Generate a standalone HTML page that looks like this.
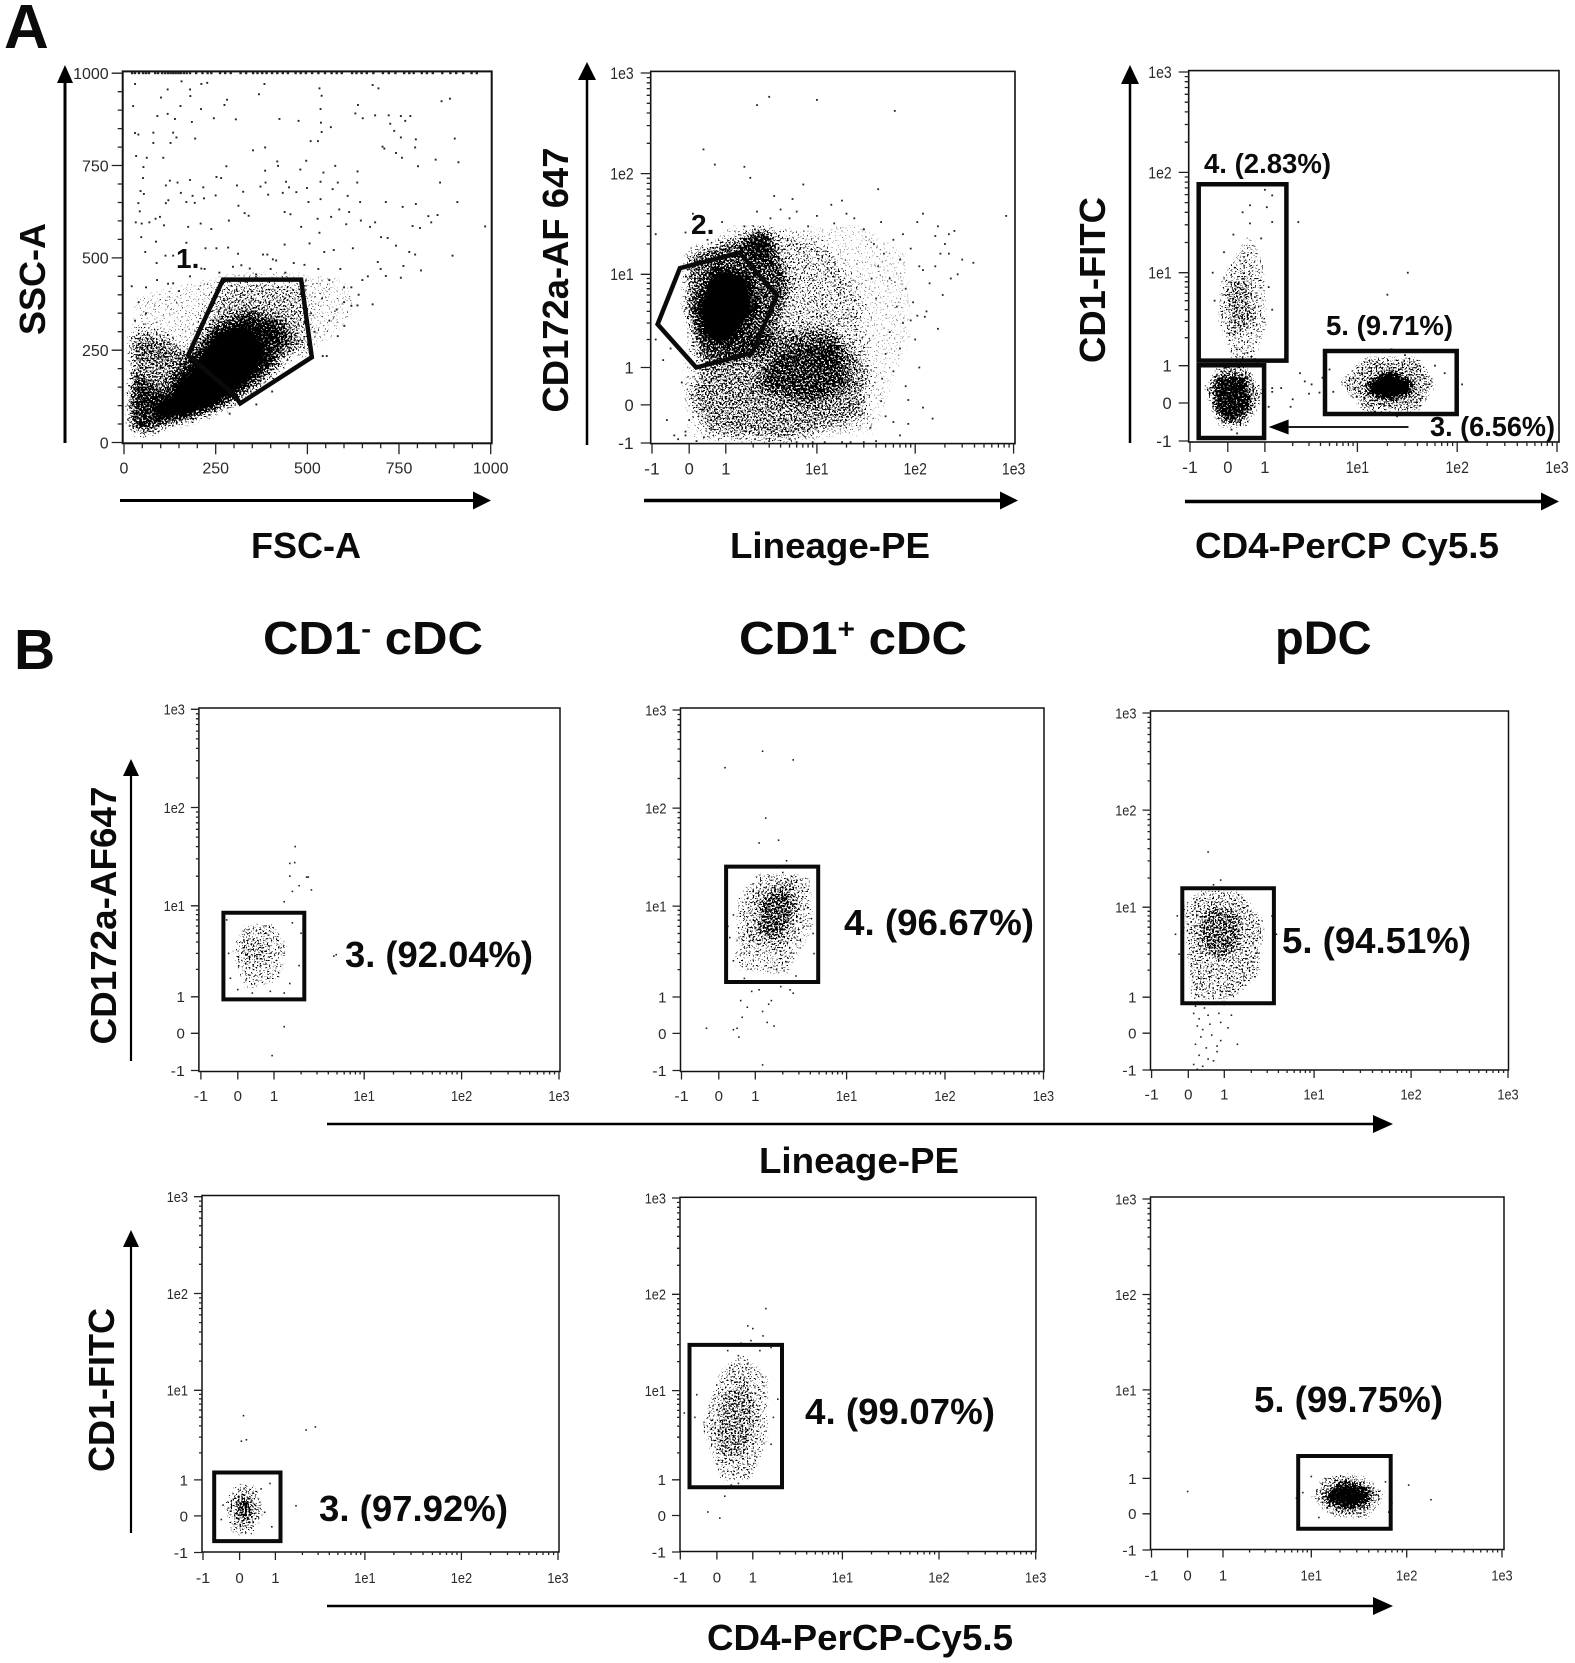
<!DOCTYPE html>
<html lang="en">
<head>
<meta charset="utf-8">
<title>Flow cytometry gating panels</title>
<style>
html,body{margin:0;padding:0;background:#fff;}
svg{display:block;}
text{font-family:"Liberation Sans",sans-serif;fill:#0b0b0b;}
.big{font-weight:bold;font-size:36px;}
.gate{font-weight:bold;font-size:28px;}
.pct{font-weight:bold;font-size:36px;}
</style>
</head>
<body>
<svg id="figure" xmlns="http://www.w3.org/2000/svg" width="1575" height="1663" viewBox="0 0 1575 1663">
<defs>
<filter id="stippleA" filterUnits="userSpaceOnUse" x="0" y="0" width="1575" height="1663" color-interpolation-filters="sRGB">
<feGaussianBlur in="SourceAlpha" stdDeviation="5" result="dens"/>
<feTurbulence type="fractalNoise" baseFrequency="0.55" numOctaves="2" seed="7" result="noise"/>
<feColorMatrix in="noise" type="matrix" values="0 0 0 0 0 0 0 0 0 0 0 0 0 0 0 2.6 0 0 0 -0.8" result="grain"/>
<feComposite in="dens" in2="grain" operator="arithmetic" k1="0" k2="1.35" k3="1" k4="-1.1" result="sum"/>
<feComponentTransfer in="sum"><feFuncA type="linear" slope="12" intercept="0"/></feComponentTransfer>
</filter>
<filter id="stippleB" filterUnits="userSpaceOnUse" x="0" y="0" width="1575" height="1663" color-interpolation-filters="sRGB">
<feGaussianBlur in="SourceAlpha" stdDeviation="3" result="dens"/>
<feTurbulence type="fractalNoise" baseFrequency="0.55" numOctaves="2" seed="11" result="noise"/>
<feColorMatrix in="noise" type="matrix" values="0 0 0 0 0 0 0 0 0 0 0 0 0 0 0 2.6 0 0 0 -0.8" result="grain"/>
<feComposite in="dens" in2="grain" operator="arithmetic" k1="0" k2="1.35" k3="1" k4="-1.1" result="sum"/>
<feComponentTransfer in="sum"><feFuncA type="linear" slope="12" intercept="0"/></feComponentTransfer>
</filter>
</defs>

<text x="4" y="48" font-size="62" font-weight="bold">A</text>
<text x="14" y="669" font-size="57" font-weight="bold">B</text>

<text class="big" x="306" y="558" text-anchor="middle">FSC-A</text>
<text class="big" transform="translate(45,279) rotate(-90)" text-anchor="middle">SSC-A</text>
<text class="big" x="830" y="558" text-anchor="middle" textLength="200" lengthAdjust="spacingAndGlyphs">Lineage-PE</text>
<text class="big" transform="translate(568,280) rotate(-90)" text-anchor="middle" textLength="265" lengthAdjust="spacingAndGlyphs">CD172a-AF 647</text>
<text class="big" x="1347" y="558" text-anchor="middle" textLength="304" lengthAdjust="spacingAndGlyphs">CD4-PerCP Cy5.5</text>
<text class="big" transform="translate(1105,280) rotate(-90)" text-anchor="middle" textLength="166" lengthAdjust="spacingAndGlyphs">CD1-FITC</text>

<text class="gate" x="176" y="268">1.</text>
<text class="gate" x="691" y="234">2.</text>
<text class="gate" x="1204" y="173" textLength="127" lengthAdjust="spacingAndGlyphs">4. (2.83%)</text>
<text class="gate" x="1326" y="335" textLength="127" lengthAdjust="spacingAndGlyphs">5. (9.71%)</text>
<text class="gate" x="1430" y="436" textLength="125" lengthAdjust="spacingAndGlyphs">3. (6.56%)</text>

<text transform="translate(263,654) scale(1.067,1)" font-size="46" font-weight="bold">CD1<tspan dy="-16" font-size="28">-</tspan><tspan dy="16"> cDC</tspan></text>
<text transform="translate(739,654) scale(1.07,1)" font-size="46" font-weight="bold">CD1<tspan dy="-16" font-size="28">+</tspan><tspan dy="16"> cDC</tspan></text>
<text x="1275" y="654" font-size="47" font-weight="bold">pDC</text>

<text class="pct" x="345" y="967" textLength="188" lengthAdjust="spacingAndGlyphs">3. (92.04%)</text>
<text class="pct" x="844" y="935" textLength="190" lengthAdjust="spacingAndGlyphs">4. (96.67%)</text>
<text class="pct" x="1282" y="953" textLength="189" lengthAdjust="spacingAndGlyphs">5. (94.51%)</text>
<text class="pct" x="319" y="1521" textLength="189" lengthAdjust="spacingAndGlyphs">3. (97.92%)</text>
<text class="pct" x="805" y="1424" textLength="190" lengthAdjust="spacingAndGlyphs">4. (99.07%)</text>
<text class="pct" x="1254" y="1412" textLength="189" lengthAdjust="spacingAndGlyphs">5. (99.75%)</text>

<text class="big" x="859" y="1173" text-anchor="middle" textLength="200" lengthAdjust="spacingAndGlyphs">Lineage-PE</text>
<text class="big" x="860" y="1650" text-anchor="middle" textLength="306" lengthAdjust="spacingAndGlyphs">CD4-PerCP-Cy5.5</text>
<text class="big" transform="translate(116,915.5) rotate(-90)" text-anchor="middle" textLength="258" lengthAdjust="spacingAndGlyphs">CD172a-AF647</text>
<text class="big" transform="translate(114,1390) rotate(-90)" text-anchor="middle">CD1-FITC</text>

<g id="plots"></g>
</svg>

<script>
// ---- axis ticks ----
const logTickValues=[-1,0,1,10,100,1000];
const logTickLabels=['-1','0','1','1e1','1e2','1e3'];
const logMinorValues=[2,3,4,5,6,7,8,9,20,30,40,50,60,70,80,90,200,300,400,500,600,700,800,900];
const linTickValues=[0,250,500,750,1000];
const linTickLabels=['0','250','500','750','1000'];
const linMinorValues=[50,100,150,200,300,350,400,450,550,600,650,700,800,850,900,950];

// ---- panel A1: FSC-A / SSC-A (flat x,y pairs) ----
const a1Saturated=[22,30,41,52,60,68,85,93,104,112,120,127,134,141,148,155,163,171,180,197,214,228,238,262,276,291,318,333,352,364,377,389,404,418,433,447,468,482,496,513,530,548,566,580,594,622,634,648,662,680,706,722,740,764,778,790,812,826,842,868,890,906,925,948,962];
const a1Events=[30,971,157,978,211,971,227,974,119,956,180,956,181,938,383,971,368,943,533,959,539,939,678,968,694,959,866,924,889,931,281,928,274,914,25,911,101,934,154,911,210,903,536,903,638,914,631,891,651,878,91,884,119,890,139,876,245,878,305,875,424,876,476,871,537,866,685,886,722,886,755,884,781,884,767,871,185,868,726,863,30,838,39,834,80,839,134,839,143,826,80,811,127,811,194,823,352,791,385,799,509,816,529,816,539,841,564,854,705,801,710,796,737,844,755,826,796,821,902,823,33,776,62,771,107,771,418,761,497,763,742,784,758,771,794,799,850,766,912,759,53,746,52,716,279,748,385,736,420,749,481,739,544,731,576,749,637,734,802,748,252,719,265,716,180,711,125,709,146,704,114,696,216,691,308,696,386,704,442,706,450,691,536,706,583,704,636,704,862,704,45,681,54,673,155,676,250,669,325,679,372,693,393,671,433,676,470,678,499,689,569,686,610,668,187,668,39,648,43,626,121,656,114,648,170,651,193,649,218,661,312,641,438,624,503,651,536,659,587,631,614,624,644,651,714,651,760,638,796,646,909,651,32,596,48,593,69,596,86,606,98,611,109,588,175,584,209,593,238,578,286,601,329,621,340,614,454,618,483,584,528,606,565,611,606,591,646,601,671,584,685,596,787,586,807,581,830,613,838,596,855,616,985,585,47,556,87,544,58,516,113,506,134,506,170,541,222,526,252,526,284,528,311,511,379,509,391,509,406,496,438,536,463,486,506,539,533,568,546,516,572,521,624,526,701,556,719,554,742,533,778,516,794,509,896,506,762,478,810,466,755,446,714,451,692,489,89,486,211,471,297,476,343,471,415,493,492,481,134,431,21,423,288,78,361,103,404,138,542,234,553,234,678,374,637,371,601,316,583,288,650,440,620,420,590,470,560,440,530,470,600,380,665,450,640,400,700,470,520,300,560,330,600,420,540,390,510,350,580,360,620,370,470,440,440,460,400,470,360,455,320,480,260,460,220,470,180,450,150,410,120,430,90,440,60,420,40,380,60,350,30,330];
const a1RegionAlpha=[0.12,0.24,0.42,0.5,0.6,0.95];
const a1RegionPts=[
[500,230,590,290,650,380,600,450,450,470,300,470,100,420,20,400,18,220],
[300,340,430,260,500,240,490,430,280,430,200,330],
[60,30,180,55,300,100,420,190,470,260,430,340,330,360,240,330,180,240,100,290,20,300,18,50],
[18,25,70,25,110,60,130,110,80,150,30,190,15,120],
[170,90,300,120,400,200,430,300,340,340,240,300,120,160],
[100,60,180,70,260,105,350,180,375,260,320,310,260,300,200,200,130,135,80,100]
];
const a1Gate=[270,441,483,441,512,231,317,106,300,130,175,236];

// ---- panel A2: Lineage-PE / CD172a ----
const a2Events=[3,580,2.2,480,10,540,62,420,0.39,174,0.7,123,1.6,117,1.86,91,7.1,78,42,70,5.4,56,18,54,14,49,840,38,105,33,170,30,220,25,250,27,390,13,270,10,220,16,180,16,120,11,190,6,125,3.5,105,3.6,170,2.6,150,-0.36,120,-0.07,85,0.13,60,-0.45,50,1.4,46,0.7,60,22,70,14,55,9,80,7,95,5,140,8,110,12,90,18,75,25,45,33,38,20,30,28,48,16,65,4.5,75,3,55,2.4,40,5.5,36,9,42,12,100,2,70,1.6,60,0.9,80,0.5,45,0.1,50,-0.3,35,-0.6,70,-0.8,30,28,24,36,20,40,15,32,10,38,8,30,6,42,4,44,5,36,3.4,60,-0.9,25,-0.4,-0.8,-0.2,0.6,-0.6,-0.4,-0.1,-0.8,0,-0.4,0.6,-0.6,1.2,-0.5,-0.3,-0.9,-0.1,-0.7,0.2,-0.95,0.4,-0.85,1.3,-0.8,2.1,-0.9,3,-0.95,5,-0.9,0.1,40,0.9,33,1.6,30,2.2,42,3.1,36,0.5,22,-0.1,26,-0.5,1.6,-0.7,1.2,-0.9,2,120,40,160,24,200,20,300,14,230,9,160,12,130,4,90,3.2,110,1,85,-0.5,40,-0.95,18,-0.98,12,-0.98,9,-0.98,22,-0.98,30,-0.98,6,-0.98];
const a2RegionAlpha=[0.11,0.18,0.34,0.4,0.5,0.55,0.85];
const a2RegionPts=[
[3,30,25,35,90,17,100,2.3,40,-0.9,5,-1,-0.1,-1,-0.3,1,0.9,35],
[3,27,12,20,30,5,30,1,4,1.5],
[1.8,2.3,13,2.7,35,0.9,29,-0.36,4.9,-0.93,0.53,-0.74,-0.04,0.32,0.34,1],
[3.5,1.44,15.6,1.9,21.6,0.5,8.2,0.03,2.1,0.5],
[-0.04,17,3,27,4.9,8.2,3,1.44,0.34,1.1,-0.13,4.3],
[1.5,22,2.6,30,3.4,14,2,12],
[0.7,11.8,1.8,9.8,2.1,3.9,1.08,1.73,0.43,1.9,0.19,4.3]
];
const a2Gate=[-0.25,11.5,1.42,16.4,3.64,5.94,1.95,1.44,0.19,1,-0.85,2.91];

// ---- panel A3: CD4-PerCP / CD1-FITC ----
const a3Events=[32,10,20,5.8,2.3,32,1.2,0.4,1.5,0.4,2,0.1,2.7,0.58,3.2,0.5,3.9,0.28,4.2,0.68,1.9,-0.1,112,0.5,0.67,75,1,67,1.2,59,0.6,47,1.05,45,1.2,32,0.6,31,0.15,24,0.4,40,0.9,22,-0.1,16,1.1,7,1.2,4,-0.4,10,-0.35,5,0.8,1.1,0.4,1.2,0.6,1,0.25,-0.8,0.1,-0.7,-0.1,-0.5,1.1,-0.1,1.2,0.3,22,1.5,30,1.3,15,-0.25,25,-0.35,60,1,75,0.8,5,0.9,5.5,0.3,2.4,0.8,3,0.25];
const a3RegionAlpha=[0.22,0.25,0.4,0.7,0.36,0.85];
const a3RegionPts=[
[-0.2,8,0.6,25,0.95,12,1.05,3,0.7,1.05,0.15,1.05,-0.25,3],
[-0.05,7,0.55,10,0.7,3,0.1,2],
[-0.6,0.4,-0.2,1,0.5,1,0.95,0.2,0.5,-0.6,-0.2,-0.6],
[-0.3,0.7,0.5,0.7,0.6,-0.2,0.1,-0.5,-0.35,-0.2],
[6.5,0.5,12,1.2,40,1.2,60,0.5,40,-0.2,12,-0.2],
[12.6,0.5,20,0.87,35,0.6,35,0.25,20,0.08,13,0.25]
];
const a3GateLow=[-0.77,1.01,0.98,1.01,0.98,-0.92,-0.77,-0.92];
const a3GateHigh=[-0.77,76,1.71,76,1.71,1.135,-0.77,1.135];
const a3GateRight=[4.47,1.44,99,1.44,99,-0.29,4.47,-0.29];

// ---- panels B (row 1: Lineage-PE / CD172a; row 2: CD4 / CD1) ----
const b1Events=[1.72,40,1.5,27,1.7,27.5,1.5,20,2.3,19.6,2.4,19.6,1.9,16,1.6,14,1.3,11,2.6,14.5,1.3,0.18,0.95,-0.6,4.6,2.8,4.9,2.9,-0.3,7,1.6,6.5,2,5,-0.25,3,1.9,2.2,0,1.2,0.4,1.1,0.9,1.15,1.3,1.1,1.5,1.4,-0.2,1.6];
const b1RegionAlpha=[0.22,0.18];
const b1RegionPts=[[-0.15,3.2,0.15,6,0.95,6.5,1.45,3.4,1.1,1.5,0.2,1.2],[0.1,3.6,0.4,4.6,0.8,3.6,0.7,2.4,0.25,2.4]];
const b1Gate=[-0.39,8.4,2.17,8.4,2.17,0.93,-0.39,0.93];

const b2Events=[0.17,258,1.2,380,2.6,310,1.3,79,1.1,44,1.8,47,2.2,29,-0.33,0.14,0.5,0.14,0.64,0.44,1.2,-0.85,1.6,0.2,0.78,0.72,1.5,0.9,2.6,1.1,1.2,0.6,1.4,0.8,0.4,0.1,0.9,1.15,1.1,1.2,0.6,0.9,1.35,0.3,0.55,-0.1,1.9,1.3,2.4,1.2,0.4,2.5,0.3,4.5,0.25,6,0.4,8,4.3,5,4.4,3,0.7,1.6,2.8,1.7,1.6,25,1.4,20,2,22];
const b2RegionAlpha=[0.2,0.18,0.32];
const b2RegionPts=[[0.45,2,0.5,12,1.1,22,3.9,20,4.4,6,2.2,1.7],[0.7,4,0.95,14,2.7,22,3.3,10,2,3],[1.06,5,1.2,12,2.2,16,2.7,9,1.8,4.4]];
const b2Gate=[0.2,25.3,4.89,25.3,4.89,1.46,0.2,1.46];

const b3Events=[0.55,37,0.9,19,0.7,17,1,16,0.2,0.75,0.45,0.7,0.7,0.8,1,0.8,0.15,0.55,0.3,0.4,0.55,0.5,0.85,0.55,1.2,0.5,0.25,0.2,0.4,0.1,0.6,0.25,0.9,0.3,1.1,0.15,1.4,-0.3,0.35,-0.1,0.65,-0.05,0.9,-0.2,0.2,-0.3,0.5,-0.4,0.8,-0.35,0.3,-0.6,0.55,-0.7,0.8,-0.5,0.15,-0.85,0.4,-0.9,0.7,-0.75,0.25,-0.98,-0.3,8,-0.35,5,-0.25,3,3.4,8,3.8,5];
const b3RegionAlpha=[0.27,0.32];
const b3RegionPts=[[-0.14,10,0.3,14.5,1.5,14.5,2.75,7,2.4,1.8,1.2,0.95,0.1,0.95],[0.33,7,0.7,10.5,1.5,8.5,1.45,3.5,0.9,2.6,0.4,3.4]];
const b3Gate=[-0.165,15.7,3.57,15.7,3.57,0.83,-0.165,0.83];

const b4Events=[0.11,5.2,0.19,2.8,0.05,2.7,2.2,3.6,2.8,3.9,1.7,0.28,0.85,0.9,0.7,0.1,0.9,-0.3,-0.45,0.3,-0.5,-0.1,0.6,0.75];
const b4RegionAlpha=[0.3,0.45];
const b4RegionPts=[[-0.4,0.3,-0.1,0.85,0.4,0.85,0.68,0.2,0.35,-0.5,-0.15,-0.5],[-0.1,0.35,0.1,0.55,0.35,0.35,0.3,-0.1,0,-0.1]];
const b4Gate=[-0.695,1.21,1.14,1.21,1.14,-0.69,-0.695,-0.69];

const b5Events=[1.4,71,0.86,47,1,44,1.3,37,0.67,31,0.95,33,-0.89,5.6,-0.25,0.1,0.08,-0.07,0.22,0.54,1.6,28,1.2,26,0.3,26,0.6,23,-0.55,9,-0.6,5,1.7,5,1.9,8,1.6,2.5,0.4,0.85,0.6,0.9,0.9,1.2];
const b5RegionAlpha=[0.24,0.22];
const b5RegionPts=[[-0.4,4,0.1,16,0.7,24,1.45,14,1.45,3,0.95,1,0.1,1],[-0.05,3,0.15,8,0.8,13,1.1,6,0.8,1.8,0.2,1.8]];
const b5Gate=[-0.75,29.8,2.12,29.8,2.12,0.79,-0.75,0.79];

const b6Events=[0,0.63,105,0.81,180,0.4,6.8,0.44,8,0.6,10,1.05,12,-0.1,60,0.9,70,0.3,65,0.05];
const b6RegionAlpha=[0.34,0.8];
const b6RegionPts=[[10,0.5,14,1.05,32,1.1,60,0.55,38,-0.1,16,-0.05],[14,0.55,22,0.92,42,0.65,40,0.3,24,0.12,15,0.3]];
const b6Gate=[7.1,1.79,68,1.79,68,-0.41,7.1,-0.41];

// ---- scale helpers (fractions of the biexponential display axis) ----
const NS='http://www.w3.org/2000/svg';
const root=document.getElementById('plots');
const biexFrac=[0,0.103,0.204,0.456,0.728,1];
function biexFraction(v){
  if(v<=-1) return 0;
  if(v<0) return biexFrac[1]*(v+1);
  if(v<1) return biexFrac[1]+(biexFrac[2]-biexFrac[1])*v;
  const d=Math.min(Math.log10(v),3);
  const k=Math.min(Math.floor(d),2);
  return biexFrac[2+k]+(biexFrac[3+k]-biexFrac[2+k])*(d-k);
}
function biexScale(a,b){return function(v){return a+(b-a)*biexFraction(v);};}
function linScale(a,b){return function(v){return a+(b-a)*v/1000;};}
function make(tag,attrs,parent){
  const el=document.createElementNS(NS,tag);
  for(const k in attrs){el.setAttribute(k,attrs[k]);}
  parent.appendChild(el);
  return el;
}
function polyPoints(flat,X,Y){
  const out=[];
  for(let i=0;i+1<flat.length;i+=2){out.push(X(flat[i]).toFixed(1)+','+Y(flat[i+1]).toFixed(1));}
  return out.join(' ');
}
function arrow(x1,y1,x2,y2,w,head,half,parent,name){
  const dx=x2-x1,dy=y2-y1,len=Math.hypot(dx,dy),ux=dx/len,uy=dy/len;
  const bx=x2-ux*head,by=y2-uy*head;
  const g=make('g',{},parent);
  
  
  const shaft=make('line',{x1:x1,y1:y1,x2:bx,y2:by,stroke:'#000','stroke-width':w},g);
  
  
  const tip=make('polygon',{points:x2+','+y2+' '+(bx-uy*half)+','+(by+ux*half)+' '+(bx+uy*half)+','+(by-ux*half),fill:'#000'},g);
  
  
}
function fitLabel(el,text,size,squeeze){
  el.textContent=text;
  if(squeeze<1 && text.length>1){
    el.setAttribute('textLength',(size*0.556*text.length*squeeze).toFixed(1));
    el.setAttribute('lengthAdjust','spacingAndGlyphs');
  }
}

function drawPanel(p){
  const g=make('g',{},root);
  
  
  const X=p.linear?linScale(p.x0,p.x1):biexScale(p.x0,p.x1);
  const Y=p.linear?linScale(p.y0,p.y1):biexScale(p.y0,p.y1);
  const clip=make('clipPath',{id:'clip-'+p.id},g);
  make('rect',{x:p.L,y:p.T,width:p.R-p.L,height:p.B-p.T},clip);

  // density regions, stippled by an SVG filter
  const clipG=make('g',{'clip-path':'url(#clip-'+p.id+')'},g);
  const dens=make('g',{filter:'url(#'+p.filter+')'},clipG);
  
  
  p.regionPts.forEach(function(flat,i){
    const r=make('polygon',{points:polyPoints(flat,X,Y),fill:'#000','fill-opacity':p.regionAlpha[i]},dens);
    
    
  });
  // single events
  for(let i=0;i+1<p.events.length;i+=2){
    const d=make('rect',{x:(X(p.events[i])-p.dot/2).toFixed(1),y:(Y(p.events[i+1])-p.dot/2).toFixed(1),width:p.dot,height:p.dot,fill:'#222'},clipG);
    
    
  }
  if(p.saturated){
    p.saturated.forEach(function(v){
      const d=make('rect',{x:(X(v)-1.2).toFixed(1),y:(Y(1000)-1).toFixed(1),width:2.4,height:2,fill:'#222'},clipG);
      
      
    });
  }
  // frame
  const frame=make('rect',{x:p.L,y:p.T,width:p.R-p.L,height:p.B-p.T,fill:'none',stroke:'#111','stroke-width':p.frameW},g);
  
  
  // ticks
  const major=p.linear?linTickValues:logTickValues;
  const labels=p.linear?linTickLabels:logTickLabels;
  const minor=p.linear?linMinorValues:logMinorValues;
  let tickPath='';
  major.forEach(function(v){
    tickPath+='M'+X(v).toFixed(1)+' '+p.B+'v'+p.majorLen+'M'+p.L+' '+Y(v).toFixed(1)+'h'+(-p.majorLen);
  });
  minor.forEach(function(v){
    tickPath+='M'+X(v).toFixed(1)+' '+p.B+'v'+p.minorLen+'M'+p.L+' '+Y(v).toFixed(1)+'h'+(-p.minorLen);
  });
  const ticks=make('path',{d:tickPath,stroke:'#222','stroke-width':1.3,fill:'none'},g);
  
  
  major.forEach(function(v,i){
    const tx=make('text',{x:X(v).toFixed(1),y:p.B+p.xLabelDy,'font-size':p.font,'text-anchor':'middle',style:'fill:#2a2a2a'},g);
    fitLabel(tx,labels[i],p.font,p.squeeze);
    
    
    const ty=make('text',{x:p.L-p.labelGap,y:(Y(v)+p.font*0.36).toFixed(1),'font-size':p.font,'text-anchor':'end',style:'fill:#2a2a2a'},g);
    fitLabel(ty,labels[i],p.font,p.squeeze);
    
    
  });
  // gates
  p.gates.forEach(function(flat){
    const gate=make('polygon',{points:polyPoints(flat,X,Y),fill:'none',stroke:'#0a0a0a','stroke-width':p.gateW,'stroke-linejoin':'miter'},g);
    
    
  });
}

const panels=[
{id:'a1',linear:true,L:122.7,R:491.7,T:71.4,B:443.3,x0:124,x1:490.7,y0:442.5,y1:73.2,filter:'stippleA',dot:1.9,frameW:2,majorLen:11,minorLen:5,font:16,squeeze:1,labelGap:14,xLabelDy:30,gateW:4.5,events:a1Events,saturated:a1Saturated,regionPts:a1RegionPts,regionAlpha:a1RegionAlpha,gates:[a1Gate]},
{id:'a2',L:650.7,R:1015,T:71.4,B:443.6,x0:652,x1:1013.6,y0:443,y1:73,filter:'stippleA',dot:1.8,frameW:1.6,majorLen:10,minorLen:4,font:16.5,squeeze:0.85,labelGap:17,xLabelDy:31,gateW:4.5,events:a2Events,regionPts:a2RegionPts,regionAlpha:a2RegionAlpha,gates:[a2Gate]},
{id:'a3',L:1188.7,R:1559,T:70.6,B:442,x0:1190,x1:1557,y0:441,y1:72,filter:'stippleB',dot:1.8,frameW:1.6,majorLen:10,minorLen:4,font:16.5,squeeze:0.85,labelGap:17,xLabelDy:31,gateW:4.5,events:a3Events,regionPts:a3RegionPts,regionAlpha:a3RegionAlpha,gates:[a3GateLow,a3GateHigh,a3GateRight]},
{id:'b1',L:198.9,R:560,T:708,B:1071.5,x0:200.9,x1:559,y0:1070.5,y1:709.3,filter:'stippleB',dot:1.6,frameW:1.5,majorLen:8,minorLen:3,font:15,squeeze:0.85,labelGap:14,xLabelDy:29.5,gateW:4,events:b1Events,regionPts:b1RegionPts,regionAlpha:b1RegionAlpha,gates:[b1Gate]},
{id:'b2',L:680.5,R:1044,T:708,B:1071.5,x0:681.5,x1:1043.5,y0:1070.5,y1:710,filter:'stippleB',dot:1.6,frameW:1.5,majorLen:8,minorLen:3,font:15,squeeze:0.85,labelGap:14,xLabelDy:29.5,gateW:4,events:b2Events,regionPts:b2RegionPts,regionAlpha:b2RegionAlpha,gates:[b2Gate]},
{id:'b3',L:1150.5,R:1508.5,T:711,B:1070,x0:1151.6,x1:1508,y0:1070,y1:713,filter:'stippleB',dot:1.6,frameW:1.5,majorLen:8,minorLen:3,font:15,squeeze:0.85,labelGap:14,xLabelDy:29.5,gateW:4,events:b3Events,regionPts:b3RegionPts,regionAlpha:b3RegionAlpha,gates:[b3Gate]},
{id:'b4',L:202,R:559,T:1195.5,B:1552,x0:203,x1:558,y0:1552.5,y1:1196.7,filter:'stippleB',dot:1.6,frameW:1.5,majorLen:8,minorLen:3,font:15,squeeze:0.85,labelGap:14,xLabelDy:31,gateW:4,events:b4Events,regionPts:b4RegionPts,regionAlpha:b4RegionAlpha,gates:[b4Gate]},
{id:'b5',L:680,R:1036,T:1197.3,B:1551.5,x0:680.3,x1:1035.7,y0:1552,y1:1198,filter:'stippleB',dot:1.6,frameW:1.5,majorLen:8,minorLen:3,font:15,squeeze:0.85,labelGap:14,xLabelDy:31,gateW:4,events:b5Events,regionPts:b5RegionPts,regionAlpha:b5RegionAlpha,gates:[b5Gate]},
{id:'b6',L:1150.5,R:1504,T:1197,B:1549.5,x0:1151.5,x1:1502,y0:1550,y1:1199,filter:'stippleB',dot:1.6,frameW:1.5,majorLen:8,minorLen:3,font:15,squeeze:0.85,labelGap:14,xLabelDy:31,gateW:4,events:b6Events,regionPts:b6RegionPts,regionAlpha:b6RegionAlpha,gates:[b6Gate]}
];
panels.forEach(drawPanel);

// ---- decorative axis arrows ----
arrow(65,443,65,65,3,18,8,root,'y-arrow-ssc');
arrow(120,500.5,491,500.5,3,18,9,root,'x-arrow-fsc');
arrow(587,445,587,62,2.5,18,9,root,'y-arrow-cd172a');
arrow(644,500.5,1018,500.5,3.5,18,9,root,'x-arrow-lineage');
arrow(1130,443,1130,65,2.5,19,9,root,'y-arrow-cd1');
arrow(1185,501.5,1559,501.5,3.5,18,9,root,'x-arrow-cd4');
arrow(1408.5,427,1268.6,427,1.8,20,7.5,root,'gate-3-pointer-arrow');
arrow(131,1061,131,759,2.2,17,8,root,'y-arrow-row1');
arrow(131,1533,131,1230,2.2,17,8,root,'y-arrow-row2');
arrow(327,1124,1393,1124,2.5,20,9,root,'x-arrow-row1');
arrow(327,1606,1393,1606,2.5,20,9,root,'x-arrow-row2');
</script>
</body>
</html>
